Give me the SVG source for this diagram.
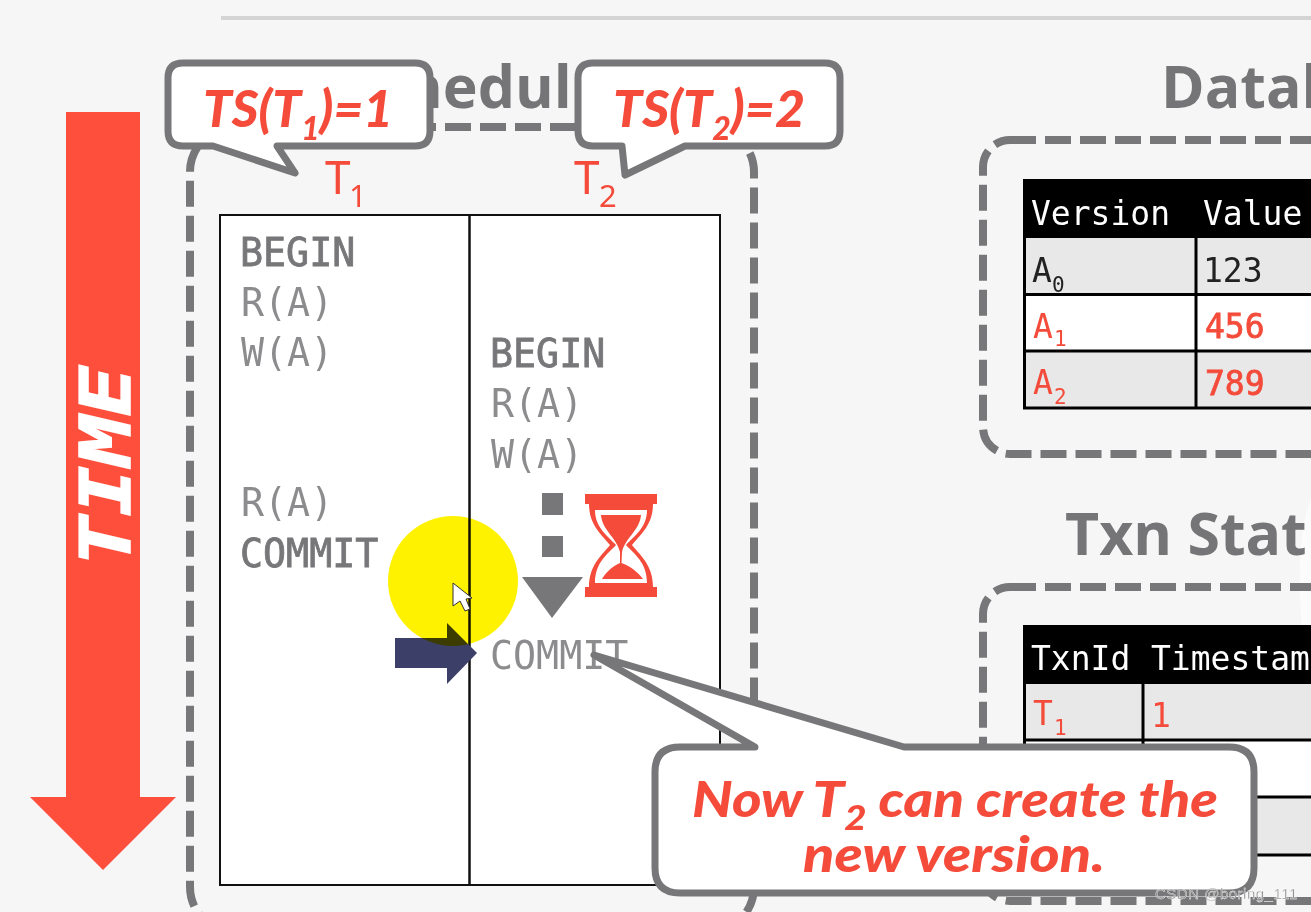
<svg xmlns="http://www.w3.org/2000/svg" width="1311" height="912" viewBox="0 0 1311 912">
<defs><style>
.dash{fill:none;stroke:#777678;stroke-width:8;stroke-dasharray:26 9}
.title{font-family:"Open Sans","Liberation Sans",sans-serif;font-weight:700;font-size:59px;fill:#757577}
.mono{font-family:"DejaVu Sans Mono","Liberation Mono",monospace;font-size:38.300px;fill:#8c8c8e}
.monob{font-family:"DejaVu Sans Mono","Liberation Mono",monospace;font-size:38.300px;fill:#77777a;stroke:#77777a;stroke-width:.8}
.hdr{font-family:"DejaVu Sans Mono","Liberation Mono",monospace;font-size:33px;fill:#fff}
.cell{font-family:"DejaVu Sans Mono","Liberation Mono",monospace;font-size:33px}
.red{fill:#f44b3a}
.rb{stroke:#f44b3a;stroke-width:.8}
.dark{fill:#222}
.sub{font-size:21px}
.lab{font-family:"Noto Sans","Liberation Sans",sans-serif;font-size:46px;fill:#f44b3a}
.lsub{font-family:"Noto Sans","Liberation Sans",sans-serif;font-size:31px;fill:#f44b3a}
.call{fill:#fff;stroke:#777678;stroke-width:7;stroke-linejoin:round}
.ct{font-family:Lato,"Open Sans",sans-serif;font-weight:900;font-style:italic;fill:#f44b3a}
.grid{fill:none;stroke:#000;stroke-width:3}
.g{fill:#777678}
</style></defs>
<rect width="1311" height="912" fill="#f6f6f7"/>
<rect x="221" y="16" width="1090" height="4" fill="#d4d4d4"/>
<path d="M1311 500C1296 530 1296 620 1311 690Z" fill="#fcfcfc"/>

<g id="time">
<path d="M66 112H140V797H176L103 870L30 797H66Z" fill="#fd4f3c"/>
<text transform="translate(130 566) rotate(-90)" font-family="DejaVu Sans Mono,monospace" font-weight="700" font-style="italic" font-size="70" fill="#fff" stroke="#fff" stroke-width="1.500" textLength="200" lengthAdjust="spacingAndGlyphs">TIME</text>
</g>

<g id="schedule">
<text class="title" x="404" y="108">hedul</text>
<rect class="dash" x="190" y="127" width="564" height="805" rx="45"/>
<rect x="220" y="215" width="500" height="670" fill="#fff" stroke="#111" stroke-width="2"/>
<line x1="469.500" y1="215" x2="469.500" y2="885" stroke="#111" stroke-width="2.500"/>
</g>

<g id="t1-ops">
<text class="monob" x="240" y="266">BEGIN</text>
<text class="mono" x="241" y="316">R(A)</text>
<text class="mono" x="241" y="366">W(A)</text>
<text class="mono" x="241" y="516">R(A)</text>
<text class="monob" x="240" y="567">COMMIT</text>
<text class="lab" x="325" y="194">T</text><text class="lsub" x="349" y="207">1</text>
</g>

<g id="t2-ops">
<text class="monob" x="490" y="367">BEGIN</text>
<text class="mono" x="491" y="417">R(A)</text>
<text class="mono" x="491" y="468">W(A)</text>
<text class="mono" x="490" y="669">COMMIT</text>
<text class="lab" x="574" y="194">T</text><text class="lsub" x="599" y="207">2</text>
</g>

<g id="wait">
<rect class="g" x="542" y="493" width="21" height="22"/>
<rect class="g" x="542" y="536" width="21" height="21"/>
<path class="g" d="M522 577H583L552 618Z"/>
<path fill="#f44b3a" fill-rule="evenodd" d="M585 494H657V504H653C653 525 640 535 632 545C640 555 653 565 653 587H657V597H585V587H589C589 565 602 555 610 545C602 535 589 525 589 504H585ZM595 510C595 528 608 536 616 545C608 554 595 562 595 583H647C647 562 634 554 626 545C634 536 647 528 647 510Z"/>
<path fill="#f44b3a" d="M601 515H641C640 530 625 538 622 552L621.500 563C630 566 638 572 643 579H602C606 572 613 566 620 563L620 552C617 538 602 530 601 515Z"/>
</g>

<g id="connectors">
<path d="M395 638H447V623L477 653L447 684V668H395Z" fill="#3c3f68"/>
</g>

<g id="pointer">
<circle cx="453" cy="581" r="65" fill="#fff200" style="mix-blend-mode:multiply"/>
<path d="M453 583L453 606L460 601L465 611L470 609L466 599L472 598Z" fill="#fff" stroke="#333" stroke-width="1"/>
</g>

<g id="database">
<text class="title" x="1161" y="108">Datab</text>
<rect class="dash" x="983" y="140" width="400" height="314" rx="27"/>
<rect x="1023" y="238" width="288" height="57" fill="#e8e8e9"/>
<rect x="1023" y="295" width="288" height="56" fill="#fff"/>
<rect x="1023" y="351" width="288" height="57" fill="#e8e8e9"/>
<rect x="1023" y="179" width="288" height="59" fill="#000"/>
<path class="grid" d="M1311 408H1024.500V179M1024.500 294.500H1311M1024.500 351H1311M1196 179V408"/>
<text class="hdr" x="1031" y="225">Version</text>
<text class="hdr" x="1203" y="225">Value</text>
<text class="cell dark" x="1032" y="282">A</text><text class="cell dark sub" x="1052" y="292">0</text>
<text class="cell dark" x="1203" y="282">123</text>
<text class="cell red" x="1033" y="338">A</text><text class="cell red sub" x="1054" y="346">1</text>
<text class="cell red rb" x="1205" y="338">456</text>
<text class="cell red" x="1033" y="394">A</text><text class="cell red sub" x="1054" y="404">2</text>
<text class="cell red rb" x="1205" y="395">789</text>
</g>

<g id="txn-status">
<text class="title" x="1065" y="555">Txn Stat</text>
<rect class="dash" x="983" y="587" width="400" height="314" rx="27"/>
<rect x="1023" y="684" width="288" height="56" fill="#e8e8e9"/>
<rect x="1023" y="740" width="288" height="57" fill="#fff"/>
<rect x="1023" y="797" width="288" height="58" fill="#e8e8e9"/>
<rect x="1023" y="625" width="288" height="59" fill="#000"/>
<path class="grid" d="M1024.500 625V760M1023 740H1311M1023 797H1311M1023 855H1311M1143 625V760"/>
<text class="hdr" x="1031" y="670">TxnId</text>
<text class="hdr" x="1151" y="670">Timestam</text>
<text class="cell red" x="1033" y="725" font-family="Noto Sans">T</text><text class="cell red sub" x="1054" y="735">1</text>
<text class="cell red" x="1151" y="727">1</text>
</g>

<g id="callout-ts1">
<path class="call" d="M183 63H415Q430 63 430 78V131Q430 146 415 146H277L295 173L213 146H183Q168 146 168 131V78Q168 63 183 63Z"/>
<text class="ct" font-size="52" x="203" y="127" textLength="190" lengthAdjust="spacingAndGlyphs">TS(T<tspan font-size="32" dy="13">1</tspan><tspan dy="-13">)=1</tspan></text>
</g>
<g id="callout-ts2">
<path class="call" d="M593 63H825Q840 63 840 78V131Q840 146 825 146H685L625 175L622 146H593Q578 146 578 131V78Q578 63 593 63Z"/>
<text class="ct" font-size="52" x="613" y="127" textLength="192" lengthAdjust="spacingAndGlyphs">TS(T<tspan font-size="32" dy="13">2</tspan><tspan dy="-13">)=2</tspan></text>
</g>
<g id="callout-now">
<path class="call" d="M680 747H755L594 655L904 747H1229Q1254 747 1254 772V868Q1254 893 1229 893H680Q655 893 655 868V772Q655 747 680 747Z"/>
<text class="ct" font-size="50" x="692" y="817" textLength="526" lengthAdjust="spacingAndGlyphs">Now T<tspan font-size="34" dy="13">2</tspan><tspan dy="-13"> can create the</tspan></text>
<text class="ct" font-size="50" x="803" y="872" textLength="302" lengthAdjust="spacingAndGlyphs">new version.</text>
</g>

<text id="watermark" x="1155" y="899" font-family="Liberation Sans,sans-serif" font-size="15" fill="#8c8c8c" stroke="#fff" stroke-width=".3" letter-spacing=".5">CSDN @boring_111</text>
</svg>
